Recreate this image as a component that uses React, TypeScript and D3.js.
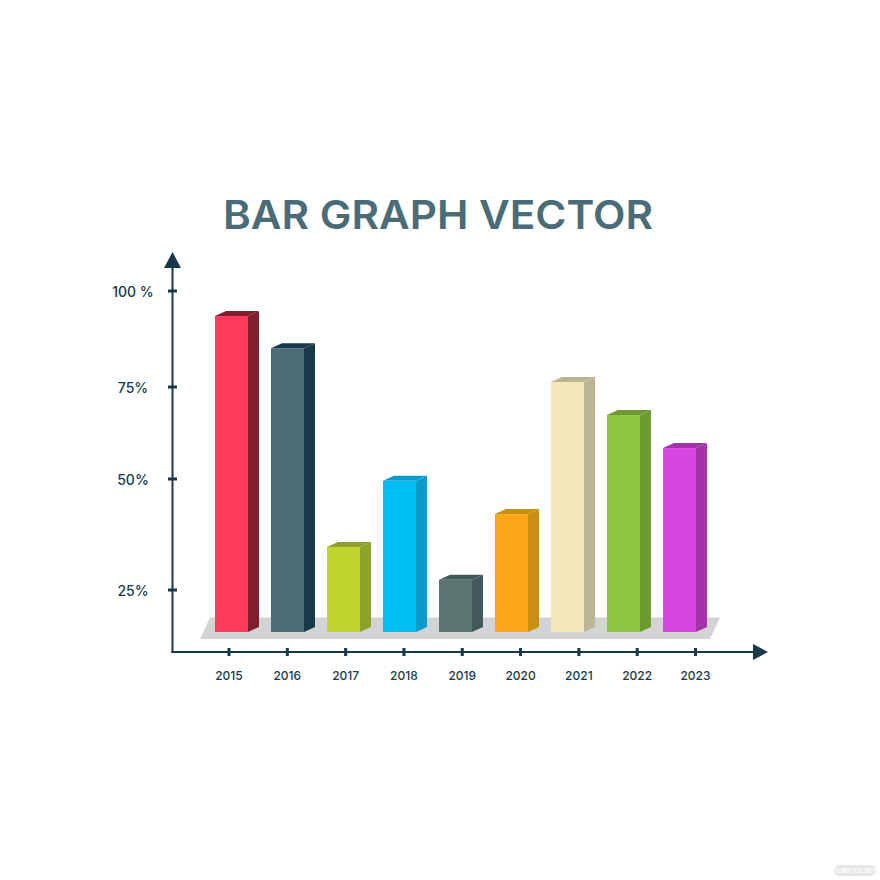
import * as d3 from 'd3';

const years = ['2015', '2016', '2017', '2018', '2019', '2020', '2021', '2022', '2023'];
const values = [93.5, 85.1, 34.7, 49.6, 27.3, 42.1, 76.3, 67.4, 58.4];
const frontColors = ['#ff395a', '#4b6b77', '#bed62f', '#00bef2', '#5a746f', '#fba61a', '#f3e9bc', '#8dc63f', '#d746de'];
const sideColors = ['#7f1f2e', '#17394a', '#8fa12a', '#0a9cc8', '#43595a', '#c88f10', '#bbb593', '#6e9b31', '#a333a7'];
const yTicks = [25, 50, 75, 100];
const yTickLabels = ['25%', '50%', '75%', '100 %'];

const AXIS = '#17394a';
const FONT = 'Inter, "Noto Sans", sans-serif';
const baseY = 632;
const barWidth = 33;
const depthX = 11;
const depthY = 5;
const axisX = 172.5;
const axisY = 652;

// the printed axis is not evenly spaced, so the scale goes through each tick
const y = d3.scaleLinear().domain(yTicks).range([590, 479, 387, 291]);
const barX = d3.scalePoint().domain(years).range([215, 663]);
const tickX = d3.scalePoint().domain(years).range([229, 695.5]);

const poly = d3.line();

export default function App() {
  return (
    <svg
      width={880}
      height={880}
      viewBox="0 0 880 880"
      style={{ position: 'fixed', left: 0, top: 0, background: '#fff' }}
    >
      <text
        x={438}
        y={229}
        textAnchor="middle"
        fontFamily={FONT}
        fontSize={40}
        fontWeight={600}
        fill="#4a6b78"
        textLength={430}
        lengthAdjust="spacingAndGlyphs"
      >
        BAR GRAPH VECTOR
      </text>

      {/* floor */}
      <path
        d={poly([[210, 617.5], [720, 617.5], [710, 639], [200, 639]])! + 'Z'}
        fill="#d1d3d4"
      />

      {years.map((year, i) => {
        const x = barX(year)!;
        const top = y(values[i]);
        return (
          <g key={year}>
            <path
              d={
                poly([
                  [x + barWidth, top],
                  [x + barWidth + depthX, top - depthY],
                  [x + barWidth + depthX, baseY - depthY],
                  [x + barWidth, baseY],
                ])! + 'Z'
              }
              fill={sideColors[i]}
            />
            <path
              d={
                poly([
                  [x, top],
                  [x + depthX, top - depthY],
                  [x + barWidth + depthX, top - depthY],
                  [x + barWidth, top],
                ])! + 'Z'
              }
              fill={sideColors[i]}
            />
            <rect x={x} y={top} width={barWidth} height={baseY - top} fill={frontColors[i]} />
          </g>
        );
      })}

      {/* axes */}
      <line x1={axisX} x2={axisX} y1={264} y2={axisY + 1} stroke={AXIS} strokeWidth={2} />
      <line x1={axisX - 1} x2={756} y1={axisY} y2={axisY} stroke={AXIS} strokeWidth={2} />
      <path d={poly([[172.5, 252], [181, 268], [164, 268]])! + 'Z'} fill={AXIS} />
      <path d={poly([[768, 652], [753, 644], [753, 660]])! + 'Z'} fill={AXIS} />

      {yTicks.map((t, i) => (
        <g key={t}>
          <line x1={168} x2={177} y1={y(t)} y2={y(t)} stroke={AXIS} strokeWidth={3} />
          <text
            x={133}
            y={y(t) + 6}
            textAnchor="middle"
            fontFamily={FONT}
            fontSize={14}
            fontWeight={500}
            fill={AXIS}
          >
            {yTickLabels[i]}
          </text>
        </g>
      ))}

      {years.map((year) => (
        <g key={year}>
          <line
            x1={tickX(year)!}
            x2={tickX(year)!}
            y1={axisY - 4}
            y2={axisY + 4}
            stroke={AXIS}
            strokeWidth={3}
          />
          <text
            x={tickX(year)!}
            y={680}
            textAnchor="middle"
            fontFamily={FONT}
            fontSize={12}
            fontWeight={500}
            fill={AXIS}
          >
            {year}
          </text>
        </g>
      ))}

      {/* watermark */}
      <rect x={834} y={865} width={42} height={11} rx={5.5} fill="#e6e6e6" />
      <text
        x={855}
        y={872.5}
        textAnchor="middle"
        fontFamily={FONT}
        fontSize={5.5}
        fontWeight={600}
        fill="#fff"
      >
        TEMPLATE.NET
      </text>
    </svg>
  );
}
